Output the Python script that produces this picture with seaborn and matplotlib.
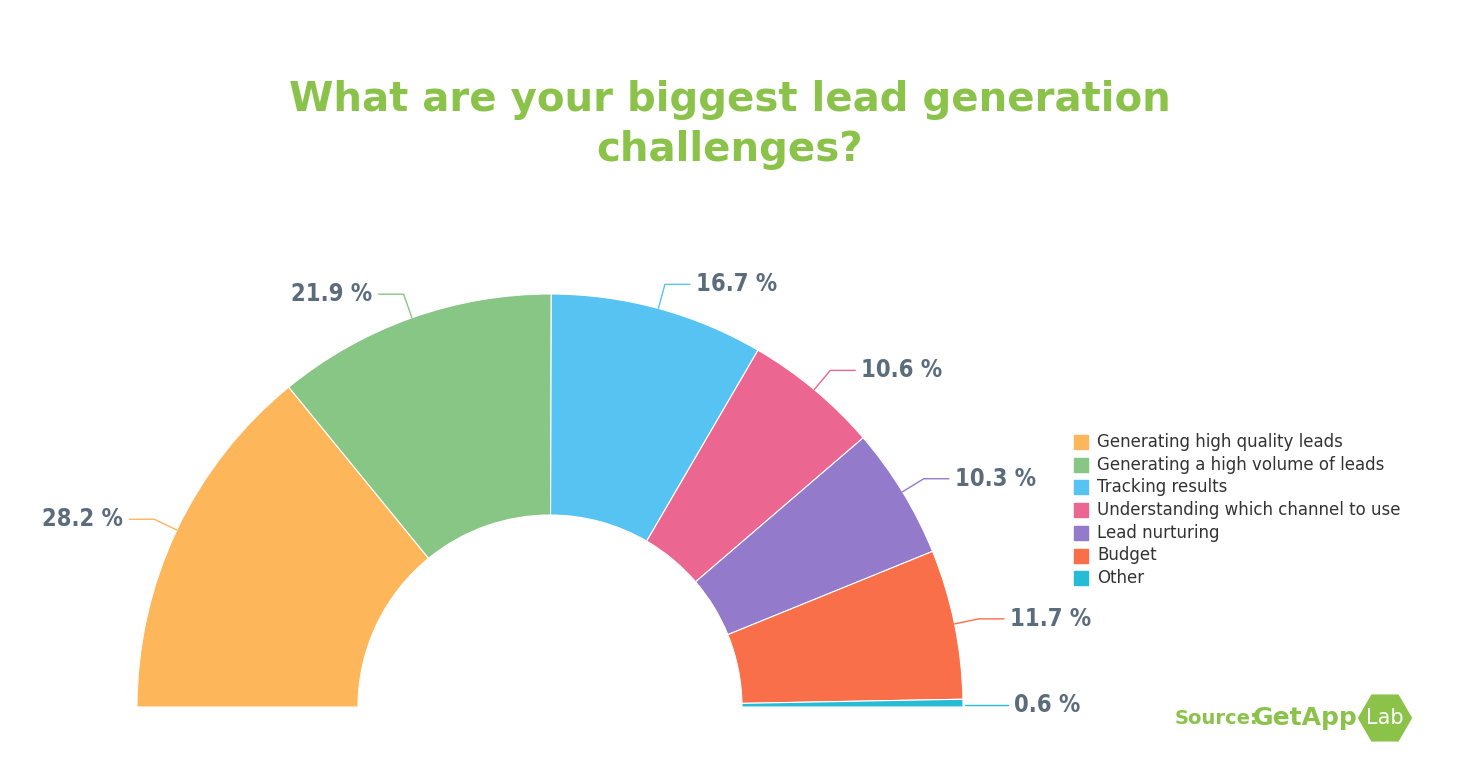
import matplotlib
matplotlib.use("Agg")
import matplotlib.pyplot as plt
import seaborn as sns
import numpy as np
from matplotlib.patches import Wedge, RegularPolygon

categories = ["Generating high quality leads", "Generating a high volume of leads",
              "Tracking results", "Understanding which channel to use",
              "Lead nurturing", "Budget", "Other"]
values = [28.2, 21.9, 16.7, 10.6, 10.3, 11.7, 0.6]
colors = ["#fdb65a", "#88c685", "#56c3f2", "#eb6690", "#937acb", "#f96f49", "#26bcd6"]

sns.set_theme(style="white")
fig = plt.figure(figsize=(14.6, 7.6), dpi=100)
ax = fig.add_axes([0, 0, 1, 1])
ax.set_xlim(0, 1460); ax.set_ylim(0, 760); ax.set_aspect("equal"); ax.axis("off")

cx, cy, R, r = 550, 53, 413, 192
total = sum(values)
cum = 0
for v, c in zip(values, colors):
    a1 = 180 - (cum + v) / total * 180
    a0 = 180 - cum / total * 180
    ax.add_patch(Wedge((cx, cy), R, a1, a0, width=R - r, facecolor=c, edgecolor="white", lw=0.8))
    mid = np.radians((a0 + a1) / 2)
    p0 = (cx + R * np.cos(mid), cy + R * np.sin(mid))
    p1 = (cx + (R + 25) * np.cos(mid), cy + (R + 25) * np.sin(mid))
    right = np.cos(mid) >= 0
    if v < 2:
        p0 = (cx + R + 2, cy + 2); p1 = (cx + R + 20, cy + 2)
    p2 = (p1[0] + (25 if right else -25), p1[1])
    ax.plot([p0[0], p1[0], p2[0]], [p0[1], p1[1], p2[1]], color=c, lw=1)
    ax.text(p2[0] + (6 if right else -6), p2[1], f"{v} %", ha="left" if right else "right",
            va="center", fontsize=17, fontweight="bold", color="#5b6c7c", fontstretch="condensed")
    cum += v

fig.text(0.5, 1 - 125 / 760, "What are your biggest lead generation\nchallenges?", ha="center", va="center",
         fontsize=29, fontweight="bold", color="#8bc34a", linespacing=1.3)

for i, (cat, c) in enumerate(zip(categories, colors)):
    y = 760 - (442 + i * 22.7)
    ax.scatter([1081], [y], marker="s", s=110, color=c)
    ax.text(1097, y, cat, va="center", fontsize=12, color="#333333")

ax.text(1175, 42, "Source:", fontsize=14, color="#8bc34a", va="center", fontweight="bold")
ax.text(1253, 42, "GetApp", fontsize=18, color="#8bc34a", va="center", fontweight="bold")
ax.add_patch(RegularPolygon((1385, 42), 6, radius=28, orientation=np.pi / 6, facecolor="#8bc34a"))
ax.text(1385, 42, "Lab", fontsize=15, color="white", ha="center", va="center")

fig.savefig("out.png", dpi=100)
